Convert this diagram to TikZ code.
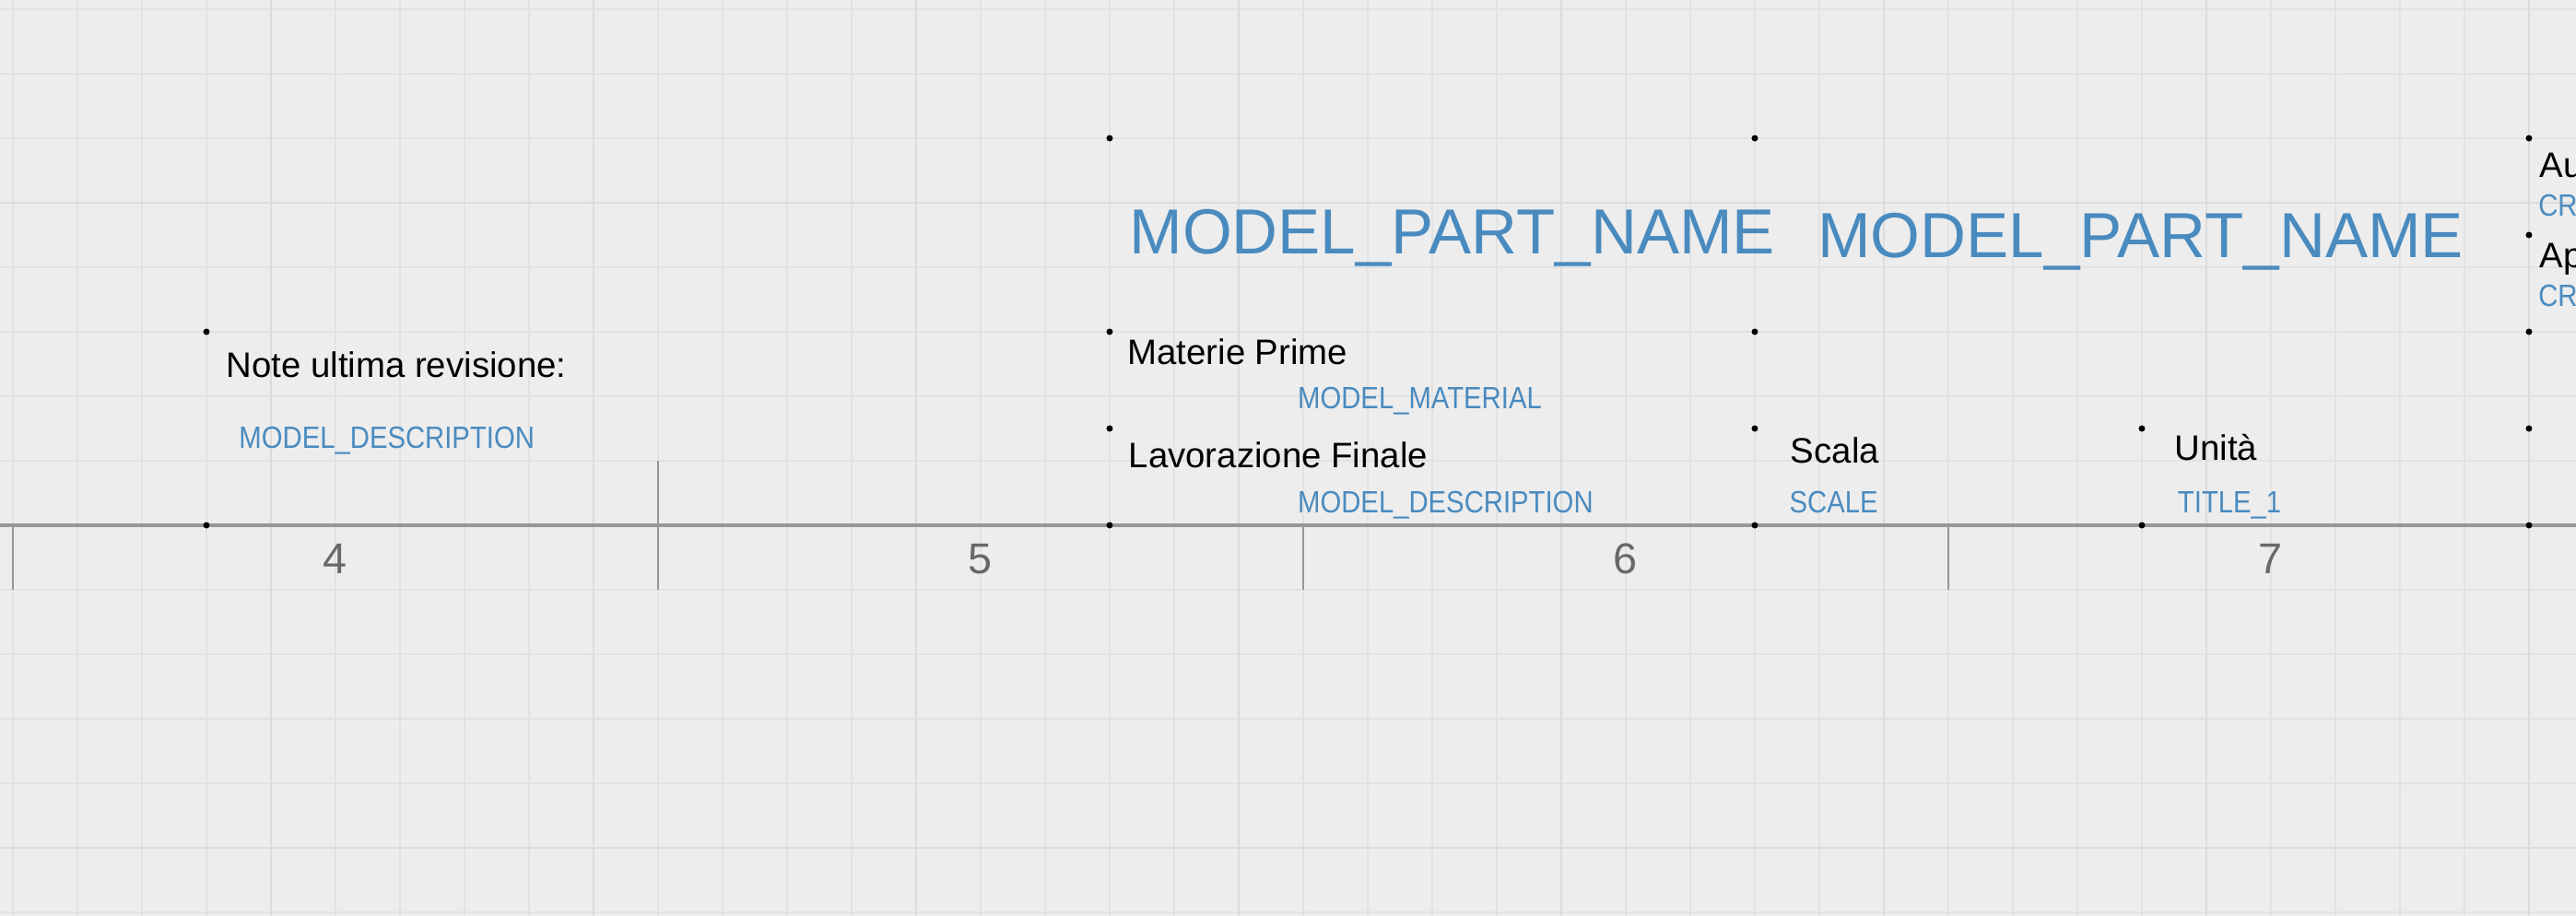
\documentclass[tikz,border=0pt]{standalone}
\usepackage{fontspec}
\setmainfont{Liberation Sans}
\newfontfamily\narrowsf[FakeStretch=0.875]{Liberation Sans}
\usetikzlibrary{positioning}
\definecolor{sheetbg}{HTML}{EDEDED}
\definecolor{gridminor}{HTML}{E2E2E2}
\definecolor{gridmajor}{HTML}{DCDCDC}
\definecolor{rulegrey}{HTML}{969696}
\definecolor{numgrey}{HTML}{686868}
\definecolor{fieldblue}{HTML}{4A8BBF}

\begin{document}
\begin{tikzpicture}[
	lbltext/.style={anchor=base west, inner sep=0pt, text=black, font=\fontsize{15.6}{18}\selectfont},
	fldtext/.style={anchor=base west, inner sep=0pt, text=fieldblue, font=\narrowsf\fontsize{13.6}{16}\selectfont},
	bigname/.style={anchor=base west, inner sep=0pt, text=fieldblue, font=\fontsize{28.1}{32}\selectfont},
	colnum/.style={anchor=base, inner sep=0pt, text=numgrey, font=\fontsize{19}{22}\selectfont},
	pin/.style={fill=black}
	]
				\useasboundingbox (-0.2,-6.057) rectangle (39.729,8.143);
				\fill[sheetbg] (-0.2,-6.057) rectangle (39.729,8.143);
				
				% grid
				\draw[gridminor, line width=0.6pt] (-0.2,-6.057) grid (39.729,8.143);
				\foreach \x in {4,9,...,39}
					\draw[gridmajor, line width=0.8pt] (\x,-6.057) -- (\x,8.143);
				\foreach \y in {-5,0,5}
					\draw[gridmajor, line width=0.8pt] (-0.2,\y) -- (39.729,\y);
				
				% column ruler
				\draw[rulegrey, line width=1.35pt] (-0.2,0) -- (39.729,0);
				\draw[rulegrey, line width=1pt] (0,0) -- (0,-1);
				\draw[rulegrey, line width=1pt] (10,1) -- (10,-1);
				\draw[rulegrey, line width=1pt] (20,0) -- (20,-1);
				\draw[rulegrey, line width=1pt] (30,0) -- (30,-1);
				\node[colnum] (n4) at (5,-0.743) {4};
				\node[colnum] (n5) at (15,-0.743) {5};
				\node[colnum] (n6) at (25,-0.743) {6};
				\node[colnum] (n7) at (35,-0.743) {7};
				
				% corner points of the title block
				\pgfmathsetmacro{\rowh}{1.5}
				\foreach \x/\y in {3/0,3/2,17/0,17/1,17/2,17/4,27/0,27/1,27/2,27/4,33/0,33/1,39/0,39/1,39/2,39/3,39/4}
					\fill[pin] (\x,\y*\rowh) circle (0.05);
				
				% fields
				\node[lbltext] (note) at (3.30,2.286) {Note ultima revisione:};
				\node[fldtext] (notedesc) at (3.50,1.186) {MODEL\_DESCRIPTION};
				
				\node[bigname] (partname) at (17.30,4.214) {MODEL\_PART\_NAME};
				\node[bigname] (partnamebis) at (27.97,4.143) {MODEL\_PART\_NAME};
				
				\node[lbltext] (materie) at (17.27,2.486) {Materie Prime};
				\node[fldtext] (material) at (19.91,1.814) {MODEL\_MATERIAL};
				\node[lbltext] (lavoraz) at (17.29,0.886) {Lavorazione Finale};
				\node[fldtext] (lavdesc) at (19.91,0.20) {MODEL\_DESCRIPTION};
				
				\node[lbltext] (scala) at (27.55,0.971) {Scala};
				\node[fldtext] (scale) at (27.53,0.20) {SCALE};
				\node[lbltext] (unita) at (33.50,1.014) {Unità};
				\node[fldtext] (title) at (33.55,0.20) {TITLE\_1};
				
				\node[lbltext] (autore) at (39.16,5.40) {Au};
				\node[fldtext] (crea) at (39.14,4.80) {CR};
				\node[lbltext] (approv) at (39.16,4.00) {Ap};
				\node[fldtext] (creb) at (39.14,3.40) {CR};
\end{tikzpicture}
\end{document}
